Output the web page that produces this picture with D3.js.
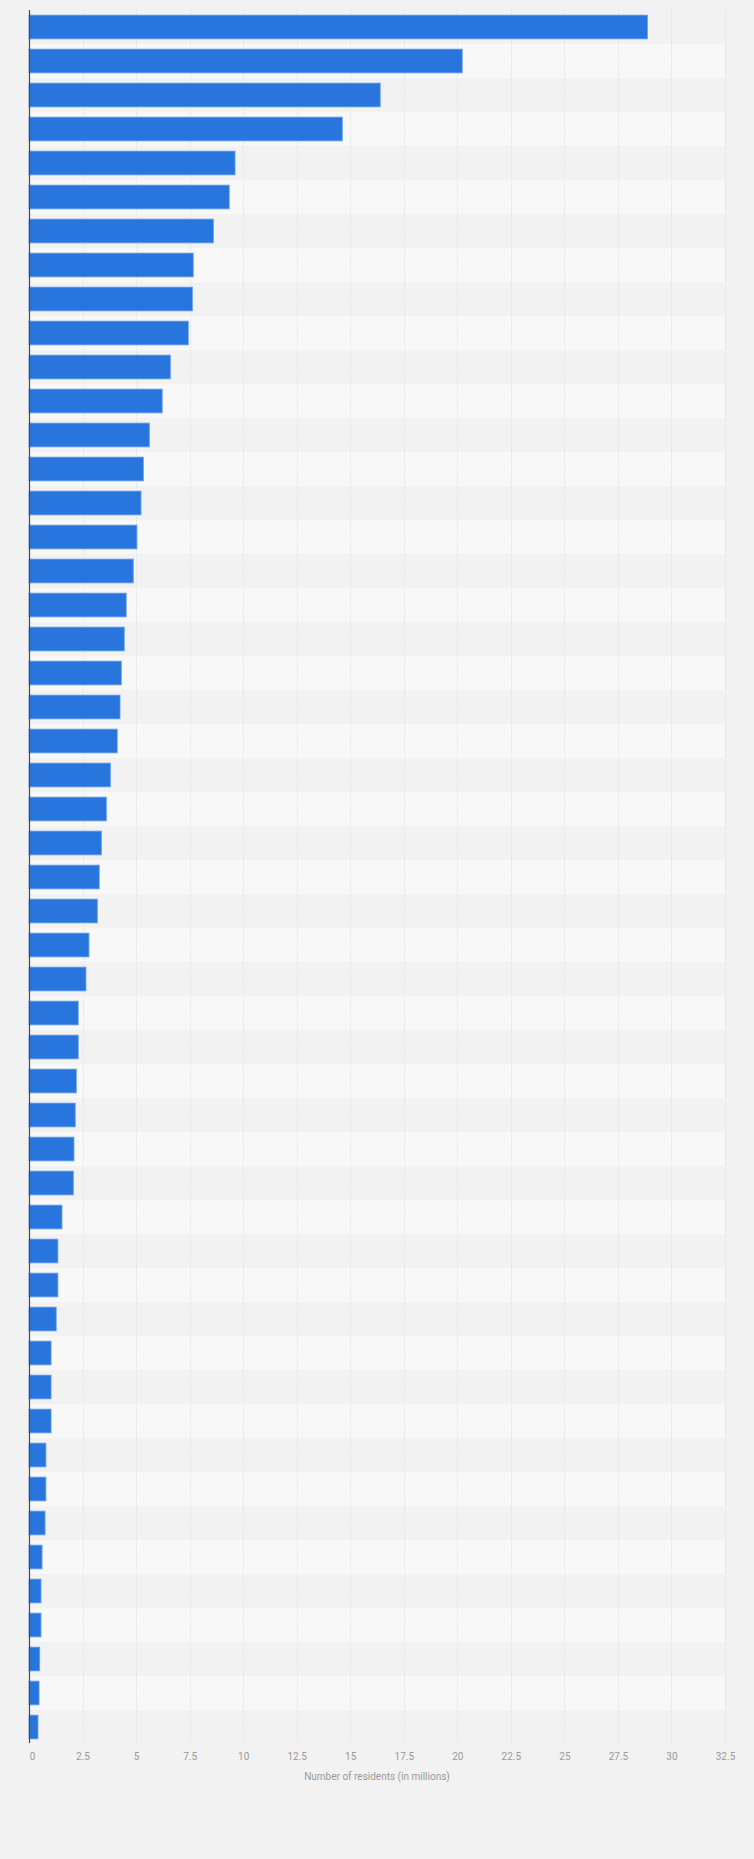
<!DOCTYPE html>
<html>
<head>
<meta charset="utf-8">
<script src="https://cdn.jsdelivr.net/npm/d3@7"></script>
<style>
  html, body { margin: 0; padding: 0; background: #f2f2f2; }
  svg { display: block; font-family: Roboto, "Noto Sans", sans-serif; }
</style>
</head>
<body>
<script>
// Chart data (ranked from largest to smallest)
const ranks = d3.range(1, 52).map(String);
const residents = [
  28.88, 20.23, 16.40, 14.63, 9.62, 9.35, 8.61, 7.67, 7.63, 7.44,
  6.60, 6.22, 5.62, 5.34, 5.23, 5.04, 4.87, 4.54, 4.45, 4.31,
  4.25, 4.12, 3.80, 3.61, 3.38, 3.28, 3.19, 2.80, 2.66, 2.30,
  2.30, 2.21, 2.16, 2.10, 2.07, 1.54, 1.35, 1.35, 1.27, 1.03,
  1.03, 1.03, 0.79, 0.79, 0.75, 0.61, 0.56, 0.56, 0.50, 0.47,
  0.42
];
const xTicks = [0, 2.5, 5, 7.5, 10, 12.5, 15, 17.5, 20, 22.5, 25, 27.5, 30, 32.5];
const xTitle = 'Number of residents (in millions)';

const width = 754;
const height = 1859;
const plot = { left: 29, right: 725, top: 10, bottom: 1744 };

const svg = d3.select('body')
  .append('svg')
  .attr('width', width)
  .attr('height', height);

svg.append('rect')
  .attr('width', width)
  .attr('height', height)
  .attr('fill', '#f2f2f2');

// Scales
const x = d3.scaleLinear()
  .domain([0, 32.5])
  .range([plot.left, plot.right]);

const y = d3.scaleBand()
  .domain(ranks)
  .range([plot.top, plot.bottom])
  .paddingInner(0.3)
  .paddingOuter(0.15);

const step = y.step();
const pad = step * y.paddingInner() / 2;

// Alternating row stripes
svg.append('g')
  .selectAll('rect')
  .data(ranks)
  .join('rect')
  .attr('x', plot.left)
  .attr('y', d => y(d) - pad)
  .attr('width', plot.right - plot.left)
  .attr('height', step)
  .attr('fill', (d, i) => i % 2 === 0 ? '#f2f2f2' : '#f8f8f8');

// Dashed vertical gridlines
svg.append('g')
  .selectAll('line')
  .data(xTicks.filter(t => t > 0))
  .join('line')
  .attr('x1', d => Math.round(x(d)) + 0.5)
  .attr('x2', d => Math.round(x(d)) + 0.5)
  .attr('y1', plot.top)
  .attr('y2', plot.bottom - 1)
  .attr('stroke', '#e0e0e0')
  .attr('stroke-width', 1)
  .attr('stroke-dasharray', '1.5,1.5');

// Bars
svg.append('g')
  .selectAll('rect')
  .data(residents)
  .join('rect')
  .attr('x', x(0))
  .attr('y', (d, i) => y(ranks[i]))
  .attr('width', d => x(d) - x(0))
  .attr('height', y.bandwidth())
  .attr('fill', '#2876dd')
  .attr('stroke', '#6aa0e8')
  .attr('stroke-width', 0.8);

// Left axis line
svg.append('line')
  .attr('x1', plot.left + 0.5)
  .attr('x2', plot.left + 0.5)
  .attr('y1', plot.top)
  .attr('y2', plot.bottom - 1)
  .attr('stroke', '#4a4a4a')
  .attr('stroke-width', 1.2);

// Bottom axis (labels only)
const xAxis = d3.axisBottom(x)
  .tickValues(xTicks)
  .tickSize(0)
  .tickPadding(0)
  .tickFormat(d => String(d));

const gx = svg.append('g')
  .attr('transform', `translate(0, ${plot.bottom + 9})`)
  .call(xAxis);

gx.select('.domain').remove();
gx.selectAll('text')
  .attr('fill', '#999999')
  .attr('font-size', 10)
  .attr('font-family', 'Roboto, sans-serif');
gx.selectAll('.tick')
  .filter(d => d === 0)
  .select('text')
  .attr('dx', 3);

svg.append('text')
  .attr('x', (plot.left + plot.right) / 2)
  .attr('y', 1780)
  .attr('text-anchor', 'middle')
  .attr('fill', '#999999')
  .attr('font-size', 10)
  .text(xTitle);
</script>
</body>
</html>
